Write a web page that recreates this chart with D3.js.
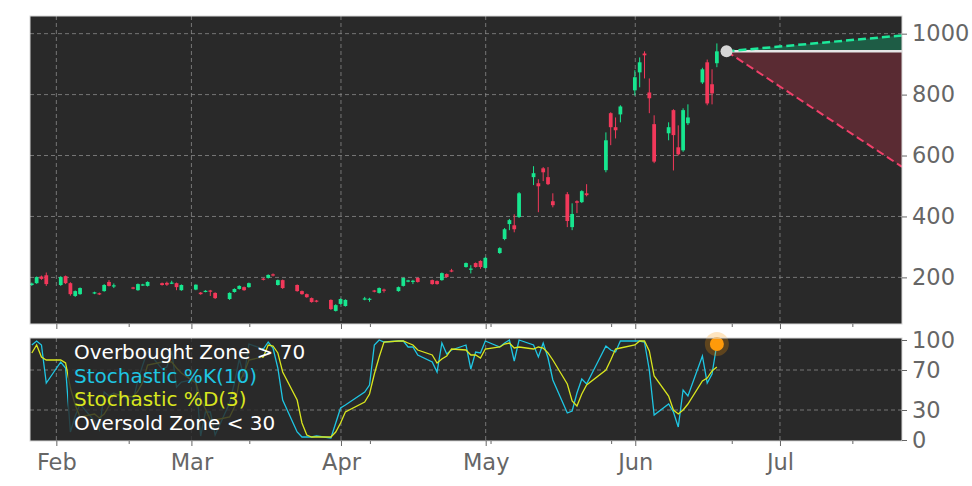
<!DOCTYPE html>
<html><head><meta charset="utf-8">
<script src="https://cdn.jsdelivr.net/npm/d3@7"></script>
<style>body{margin:0;background:#fff;} svg{display:block;font-family:"DejaVu Sans",sans-serif;}</style>
</head><body><svg id="c" width="972" height="486"></svg>
<script>
const dates = ["2021-01-26","2021-01-27","2021-01-28","2021-01-29",
"2021-02-01","2021-02-02","2021-02-03","2021-02-04","2021-02-05",
"2021-02-08","2021-02-09","2021-02-10","2021-02-11","2021-02-12",
"2021-02-16","2021-02-17","2021-02-18","2021-02-19",
"2021-02-22","2021-02-23","2021-02-24","2021-02-25","2021-02-26",
"2021-03-01","2021-03-02","2021-03-03","2021-03-04","2021-03-05",
"2021-03-08","2021-03-09","2021-03-10","2021-03-11","2021-03-12",
"2021-03-15","2021-03-16","2021-03-17","2021-03-18","2021-03-19",
"2021-03-22","2021-03-23","2021-03-24","2021-03-25","2021-03-26",
"2021-03-29","2021-03-30","2021-03-31","2021-04-01",
"2021-04-05","2021-04-06","2021-04-07","2021-04-08","2021-04-09",
"2021-04-12","2021-04-13","2021-04-14","2021-04-15","2021-04-16",
"2021-04-19","2021-04-20","2021-04-21","2021-04-22","2021-04-23",
"2021-04-26","2021-04-27","2021-04-28","2021-04-29","2021-04-30",
"2021-05-03","2021-05-04","2021-05-05","2021-05-06","2021-05-07",
"2021-05-10","2021-05-11","2021-05-12","2021-05-13","2021-05-14",
"2021-05-17","2021-05-18","2021-05-19","2021-05-20","2021-05-21",
"2021-05-25","2021-05-26","2021-05-27","2021-05-28",
"2021-05-31","2021-06-01","2021-06-02","2021-06-03","2021-06-04",
"2021-06-07","2021-06-08","2021-06-09","2021-06-10","2021-06-11",
"2021-06-14","2021-06-15","2021-06-16","2021-06-17"];

const open  = [175,181,203,207, 175,204,181,139,145, 147,148,155,185,170, 167,158,174,172, 181,182,180,181,158,
 160,150,153,157,149, 129,152,162,168,168, 196,198,210,175,191, 175,155,145,132,124, 126,90,113,106,
 127,128,157,149,160, 155,172,186,186,198, 191,188,191,211,223, 234,226,247,254,231,
 280,326,375,371,398, 529,509,558,529,450, 473,365,450,447,476, 552,739,693,735,
 814,873,935,807,703, 673,749,627,617,706, 840,906,834,903];
const high  = [183,203,206,216, 204,206,184,157,167, 153,150,178,191,180, 169,180,179,187, 183,186,189,183,177,
 177,152,158,159,151, 151,164,174,170,183, 198,210,213,193,193, 177,157,147,134,126, 128,112,131,128,
 136,133,159,167,163, 170,200,192,192,200, 193,190,216,213,228, 249,240,249,256,267,
 299,362,392,407,480, 565,522,562,562,476, 480,443,453,486,506, 676,742,725,765,
 880,922,942,853,732, 709,752,699,755,768, 888,915,883,968];
const low   = [172,179,192,172, 172,178,140,136,143, 145,142,153,170,165, 161,156,172,170, 173,172,178,158,156,
 158,143,151,139,129, 126,150,160,156,166, 190,196,203,173,162, 153,143,133,117,118, 93,88,111,104,
 125,120,151,147,150, 153,170,184,178,183, 176,176,189,199,217, 232,213,232,228,229,
 277,322,355,348,395, 503,414,516,503,430, 365,355,411,444,466, 545,634,656,709,
 797,824,853,739,575, 650,551,600,612,700, 835,765,768,890];
const close = [180,201,195,178, 201,181,145,155,165, 151,144,175,172,174, 163,178,177,185, 175,176,183,168,175,
 176,145,156,153,132, 149,162,172,158,181, 192,208,206,191,165, 155,145,135,119,121, 96,109,129,126,
 131,130,153,165,157, 168,198,190,189,185, 178,178,214,201,219, 247,229,234,234,264,
 296,358,388,358,476, 542,499,545,506,437, 385,408,445,483,470, 650,693,683,761,
 857,906,929,788,580, 693,667,604,749,725, 883,771,804,942];

const stochK = [95,99,95,57, 78,72,8,24,36, 19,10,48,44,47, 39,60,75,89, 71,73,89,53,58,
 61,4,28,28,5, 37,57,81,63,96, 91,98,92,72,40, 8,3,3,3,4, 2,17,32,35,
 48,55,95,100,98, 99,99,93,93,85, 78,68,97,86,90, 95,71,88,87,99,
 93,97,100,79,100, 95,83,97,82,60, 27,29,47,61,56, 94,90,88,99,
 99,99,98,70,25, 36,28,13,50,44, 84,57,66,96];
const stochD = [87,95,83,80, 80,77,52,35,23, 26,22,26,34,46, 43,49,58,75, 78,78,78,72,67,
 57,41,31,20,20, 23,33,58,67,80, 83,95,94,87,68, 40,17,5,3,3, 3,8,17,28,
 38,46,66,83,98, 99,99,97,95,90, 85,77,81,84,91, 90,85,85,82,91,
 93,96,97,92,93, 91,93,92,87,80, 56,39,34,46,55, 70,80,91,92,
 95,99,99,89,64, 44,30,26,30,36, 59,62,69,73];

const monthTicks = ["2021-02-01","2021-03-01","2021-04-01","2021-05-01","2021-06-01","2021-07-01"];
const monthLabels = ["Feb","Mar","Apr","May","Jun","Jul"];
const minorTicks = ["2021-02-16","2021-03-13","2021-04-07","2021-05-02","2021-05-27","2021-06-21","2021-07-16"];
const priceTicks = [200,400,600,800,1000];
const stochTicks = [0,30,70,100];
const stochGrid = [30,70];
const projStart = "2021-06-19";
const projBase = 942, projUp = 994, projDown = 563;
const legendLabels = ["Overbought Zone > 70","Stochastic %K(10)","Stochastic %D(3)","Oversold Zone < 30"];
const legendColors = ["#ffffff","#1fc6e3","#d9e61e","#ffffff"];

const parse = d3.timeParse("%Y-%m-%d");
const shift = d => d3.timeHour.offset(parse(d), 22);

const svg = d3.select("#c");
const L = 30, R = 902;
const mainT = 16, mainB = 324, lowT = 338, lowB = 441;
const x = d3.scaleTime().domain([new Date(2021,0,26,13), new Date(2021,6,26,7)]).range([L, R]);
const y = d3.scaleLinear().domain([47, 1058]).range([mainB, mainT]);
const ys = d3.scaleLinear().domain([-1, 102]).range([lowB, lowT]);

const BG = "#292929", GRID = "#8a8a8a", TICK = "#666666";
const UP = "#17e68f", DOWN = "#f2385a";

svg.append("defs").append("clipPath").attr("id","cm").append("rect")
  .attr("x",L).attr("y",mainT).attr("width",R-L).attr("height",mainB-mainT);
svg.select("defs").append("clipPath").attr("id","cl").append("rect")
  .attr("x",L).attr("y",lowT).attr("width",R-L).attr("height",lowB-lowT);

// panels
svg.append("rect").attr("x",L).attr("y",mainT).attr("width",R-L).attr("height",mainB-mainT).attr("fill",BG);
svg.append("rect").attr("x",L).attr("y",lowT).attr("width",R-L).attr("height",lowB-lowT).attr("fill",BG);

// grids main
const gm = svg.append("g");
gm.selectAll("line.h").data(priceTicks).join("line")
  .attr("x1",L).attr("x2",R).attr("y1",d=>y(d)).attr("y2",d=>y(d))
  .attr("stroke",GRID).attr("stroke-width",0.8).attr("stroke-dasharray","4,3");
gm.selectAll("line.v").data(monthTicks).join("line")
  .attr("x1",d=>x(parse(d))).attr("x2",d=>x(parse(d))).attr("y1",mainT).attr("y2",mainB)
  .attr("stroke",GRID).attr("stroke-width",0.8).attr("stroke-dasharray","4,3");
// grids low
const gl = svg.append("g");
gl.selectAll("line.h").data(stochGrid).join("line")
  .attr("x1",L).attr("x2",R).attr("y1",d=>ys(d)).attr("y2",d=>ys(d))
  .attr("stroke",GRID).attr("stroke-width",0.8).attr("stroke-dasharray","4,3");
gl.selectAll("line.v").data(monthTicks).join("line")
  .attr("x1",d=>x(parse(d))).attr("x2",d=>x(parse(d))).attr("y1",lowT).attr("y2",lowB)
  .attr("stroke",GRID).attr("stroke-width",0.8).attr("stroke-dasharray","4,3");

// projection fills
const pm = svg.append("g").attr("clip-path","url(#cm)");
const px0 = x(shift(projStart)), px1 = R;
pm.append("path").attr("d", d3.line()([[px0,y(projBase)],[px1,y(projBase)],[px1,y(projUp)]])+"Z")
  .attr("fill","#1e5c45");
pm.append("path").attr("d", d3.line()([[px0,y(projBase)],[px1,y(projBase)],[px1,y(projDown)]])+"Z")
  .attr("fill","#5a2b33");

// candles
const data = dates.map((d,i)=>({t:shift(d),o:open[i],h:high[i],l:low[i],c:close[i]}));
const day = x(new Date(2021,2,2)) - x(new Date(2021,2,1));
const cw = day*0.78;
const cg = pm.append("g");
cg.selectAll("line").data(data).join("line")
  .attr("x1",d=>x(d.t)).attr("x2",d=>x(d.t)).attr("y1",d=>y(d.h)).attr("y2",d=>y(d.l))
  .attr("stroke",d=>d.c>=d.o?UP:DOWN).attr("stroke-width",1);
cg.selectAll("rect").data(data).join("rect")
  .attr("x",d=>x(d.t)-cw/2).attr("width",cw)
  .attr("y",d=>y(Math.max(d.o,d.c))).attr("height",d=>Math.max(1.2,Math.abs(y(d.o)-y(d.c))))
  .attr("fill",d=>d.c>=d.o?UP:DOWN);

// projection lines
pm.append("line").attr("x1",px0).attr("x2",px1).attr("y1",y(projBase)).attr("y2",y(projBase))
  .attr("stroke","#e6e6e6").attr("stroke-width",2.5);
pm.append("line").attr("x1",px0).attr("x2",px1).attr("y1",y(projBase)).attr("y2",y(projUp))
  .attr("stroke","#1de99b").attr("stroke-width",2.5).attr("stroke-dasharray","8,4");
pm.append("line").attr("x1",px0).attr("x2",px1).attr("y1",y(projBase)).attr("y2",y(projDown))
  .attr("stroke","#f0406a").attr("stroke-width",2).attr("stroke-dasharray","8,4");
svg.append("circle").attr("cx",px0).attr("cy",y(projBase)).attr("r",6).attr("fill","#d6d6d6");

// stochastic lines
const lg = svg.append("g").attr("clip-path","url(#cl)");
const sl = arr => d3.line().x((d,i)=>x(shift(dates[i]))).y(d=>ys(d))(arr);
lg.append("path").attr("d",sl(stochK)).attr("fill","none").attr("stroke",legendColors[1]).attr("stroke-width",1.3);
lg.append("path").attr("d",sl(stochD)).attr("fill","none").attr("stroke",legendColors[2]).attr("stroke-width",1.3);

// legend
lg.append("rect").attr("x",68).attr("y",lowT+1).attr("width",194).attr("height",lowB-lowT-2)
  .attr("fill",BG).attr("opacity",0.82);
svg.append("g").selectAll("text").data(legendLabels).join("text")
  .attr("x",74).attr("y",(d,i)=>359+i*23.7).attr("fill",(d,i)=>legendColors[i])
  .attr("font-size",20).text(d=>d);

// last K marker
const lk = stochK.length-1;
svg.append("circle").attr("cx",x(shift(dates[lk]))).attr("cy",ys(stochK[lk])).attr("r",12).attr("fill","#ff9800").attr("opacity",0.25);
svg.append("circle").attr("cx",x(shift(dates[lk]))).attr("cy",ys(stochK[lk])).attr("r",7).attr("fill","#ff9a0a");

// borders
[[mainT,mainB],[lowT,lowB]].forEach(([t,b])=>{
  svg.append("rect").attr("x",L).attr("y",t).attr("width",R-L).attr("height",b-t)
    .attr("fill","none").attr("stroke","#d8d8d8").attr("stroke-width",1);
});

// right axes
const ax1 = svg.append("g").attr("transform",`translate(${R},0)`)
  .call(d3.axisRight(y).tickValues(priceTicks).tickSize(5).tickPadding(5).tickFormat(d3.format("d")));
const ax2 = svg.append("g").attr("transform",`translate(${R},0)`)
  .call(d3.axisRight(ys).tickValues(stochTicks).tickSize(5).tickPadding(5).tickFormat(d3.format("d")));
// bottom axes
const bx1 = svg.append("g").attr("transform",`translate(0,${mainB})`)
  .call(d3.axisBottom(x).tickValues(monthTicks.map(parse)).tickSize(5).tickFormat(""));
const bx1m = svg.append("g").attr("transform",`translate(0,${mainB})`)
  .call(d3.axisBottom(x).tickValues(minorTicks.map(parse)).tickSize(3).tickFormat(""));
const bx2 = svg.append("g").attr("transform",`translate(0,${lowB})`)
  .call(d3.axisBottom(x).tickValues(monthTicks.map(parse)).tickSize(5).tickPadding(8).tickFormat((d,i)=>monthLabels[i]));
const bx2m = svg.append("g").attr("transform",`translate(0,${lowB})`)
  .call(d3.axisBottom(x).tickValues(minorTicks.map(parse)).tickSize(3).tickFormat(""));
[ax1,ax2,bx1,bx1m,bx2,bx2m].forEach(g=>{
  g.select(".domain").remove();
  g.selectAll(".tick line").attr("stroke",TICK);
  g.selectAll(".tick text").attr("fill",TICK).attr("font-size",22.5).attr("font-family","DejaVu Sans");
});
</script></body></html>
